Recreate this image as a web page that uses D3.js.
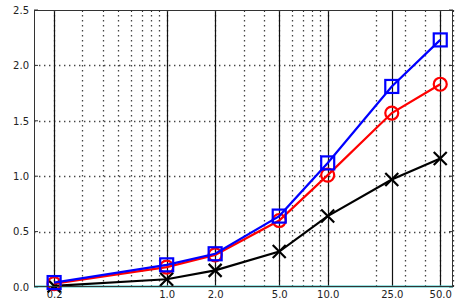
<!DOCTYPE html>
<html>
<head>
<meta charset="utf-8">
<script src="https://cdn.jsdelivr.net/npm/d3@7"></script>
<style>
  body { margin: 0; background: #fff; overflow: hidden; }
  svg { display: block; font-family: "DejaVu Sans", sans-serif; }
</style>
</head>
<body>
<svg></svg>
<script>
const width = 474, height = 305;

// chart values
const xValues = [0.2, 1.0, 2.0, 5.0, 10.0, 25.0, 50.0];
const xTickLabels = ["0.2", "1.0", "2.0", "5.0", "10.0", "25.0", "50.0"];
const yTicks = [0, 0.5, 1.0, 1.5, 2.0, 2.5];
const blueSquares = [0.04, 0.20, 0.30, 0.64, 1.12, 1.81, 2.23];
const redCircles = [0.03, 0.18, 0.29, 0.60, 1.01, 1.57, 1.83];
const blackCrosses = [0.01, 0.07, 0.15, 0.32, 0.64, 0.97, 1.16];

const margin = { top: 10, right: 21, bottom: 18, left: 34 };
const innerWidth = width - margin.left - margin.right;
const innerHeight = height - margin.top - margin.bottom;

const svg = d3.select("svg").attr("width", width).attr("height", height);
const g = svg.append("g").attr("transform", `translate(${margin.left},${margin.top})`);

const xScale = d3.scaleLog().domain([0.15, 60]).range([0, innerWidth]);
const yScale = d3.scaleLinear().domain([0, 2.5]).range([innerHeight, 0]);

// dotted grid at every log tick
const minor = [];
[0.1, 1, 10].forEach(dec => {
  for (let k = 1; k < 10; k++) {
    const v = dec * k;
    if (v >= 0.15 && v <= 60) minor.push(v);
  }
});
g.append("g").selectAll("line").data(minor).enter().append("line")
  .attr("x1", d => Math.round(xScale(d)) + 0.5).attr("x2", d => Math.round(xScale(d)) + 0.5)
  .attr("y1", 0).attr("y2", innerHeight)
  .attr("stroke", "#444").attr("stroke-width", 1.3).attr("stroke-dasharray", "1.4,3.6");

g.append("g").selectAll("line").data(yTicks.slice(1, -1)).enter().append("line")
  .attr("x1", 0).attr("x2", innerWidth)
  .attr("y1", d => Math.round(yScale(d)) + 0.5).attr("y2", d => Math.round(yScale(d)) + 0.5)
  .attr("stroke", "#444").attr("stroke-width", 1.3).attr("stroke-dasharray", "1.4,3.6");

// solid verticals at data x positions
g.append("g").selectAll("line").data(xValues).enter().append("line")
  .attr("x1", d => Math.round(xScale(d)) + 0.5).attr("x2", d => Math.round(xScale(d)) + 0.5)
  .attr("y1", 0).attr("y2", innerHeight)
  .attr("stroke", "#111").attr("stroke-width", 1.2);

// axes
const yAxis = d3.axisLeft(yScale).tickValues(yTicks).tickFormat(d3.format(".1f")).tickSize(0).tickPadding(5);
const yAxisG = g.append("g").call(yAxis).attr("font-size", 10).attr("font-family", "DejaVu Sans, sans-serif");
yAxisG.select(".domain").remove();
yAxisG.selectAll("text").attr("fill", "#222");

const xAxis = d3.axisBottom(xScale).tickValues(xValues).tickFormat((d, i) => xTickLabels[i]).tickSize(0).tickPadding(4);
const xAxisG = g.append("g").attr("transform", `translate(0,${innerHeight})`).call(xAxis)
  .attr("font-size", 10).attr("font-family", "DejaVu Sans, sans-serif");
xAxisG.select(".domain").remove();
xAxisG.selectAll("text").attr("fill", "#222");

// small inward ticks on y (both sides)
yTicks.forEach(t => {
  g.append("line").attr("x1", 0).attr("x2", 4).attr("y1", yScale(t)).attr("y2", yScale(t)).attr("stroke", "#333");
  g.append("line").attr("x1", innerWidth - 4).attr("x2", innerWidth).attr("y1", yScale(t)).attr("y2", yScale(t)).attr("stroke", "#333");
});
// minor inward ticks on x (top and bottom)
minor.forEach(t => {
  const x = Math.round(xScale(t)) + 0.5;
  g.append("line").attr("x1", x).attr("x2", x).attr("y1", innerHeight - 2).attr("y2", innerHeight).attr("stroke", "#333");
  g.append("line").attr("x1", x).attr("x2", x).attr("y1", 0).attr("y2", 2).attr("stroke", "#333");
});

// cyan baseline
g.append("line")
  .attr("x1", 0).attr("x2", innerWidth)
  .attr("y1", yScale(0) - 0.5).attr("y2", yScale(0) - 0.5)
  .attr("stroke", "#3cc7c7").attr("stroke-width", 2);

const line = d3.line().x((d, i) => xScale(xValues[i])).y(d => yScale(d));

function drawSeries(values, color, marker) {
  const sg = g.append("g");
  sg.append("path").datum(values)
    .attr("fill", "none").attr("stroke", color).attr("stroke-width", 2.2)
    .attr("d", line);
  const pts = sg.selectAll("g.pt").data(values).enter().append("g")
    .attr("transform", (d, i) => `translate(${xScale(xValues[i])},${yScale(d)})`);
  if (marker === "square") {
    pts.append("rect").attr("x", -6.5).attr("y", -6.5).attr("width", 13).attr("height", 13)
      .attr("fill", "none").attr("stroke", color).attr("stroke-width", 2.2);
  } else if (marker === "circle") {
    pts.append("circle").attr("r", 6.5)
      .attr("fill", "none").attr("stroke", color).attr("stroke-width", 2.2);
  } else {
    pts.append("path").attr("d", "M-6.5,-6.5L6.5,6.5M-6.5,6.5L6.5,-6.5")
      .attr("fill", "none").attr("stroke", color).attr("stroke-width", 2.2);
  }
}

drawSeries(blackCrosses, "#000", "x");
drawSeries(redCircles, "#f00", "circle");
drawSeries(blueSquares, "#0000ff", "square");

// frame
g.append("rect").attr("x", 0.5).attr("y", 0.5).attr("width", innerWidth - 1).attr("height", innerHeight - 1)
  .attr("fill", "none").attr("stroke", "#333").attr("stroke-width", 1);
</script>
</body>
</html>
